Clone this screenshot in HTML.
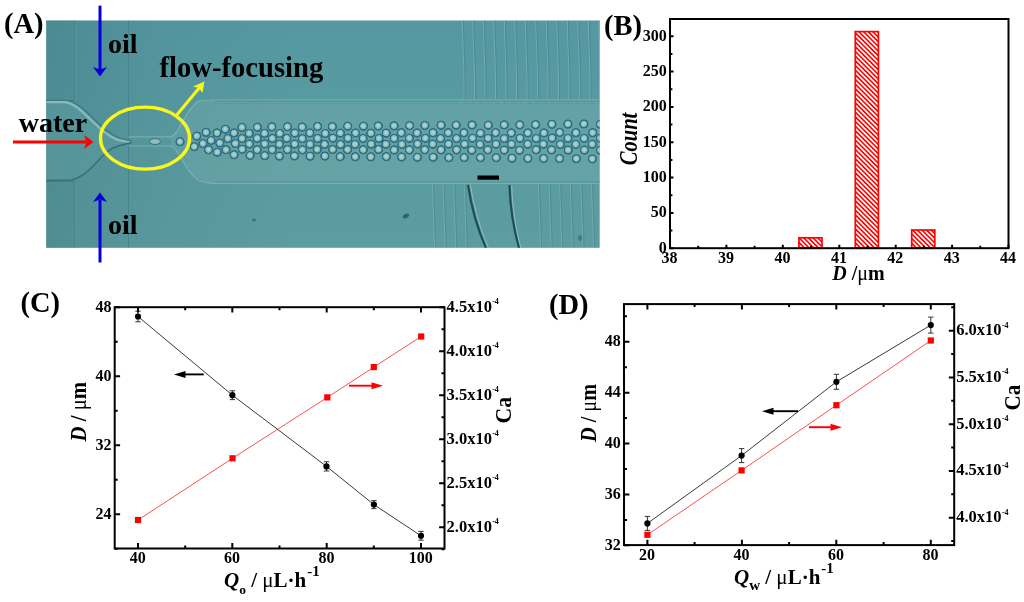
<!DOCTYPE html>
<html><head><meta charset="utf-8"><title>Figure</title>
<style>
html,body{margin:0;padding:0;background:#fff;}
body{width:1024px;height:602px;overflow:hidden;}
svg{display:block;}
text{font-family:"Liberation Serif","DejaVu Serif",serif;font-weight:bold;fill:#000;}
.tk{font-size:16px;}
.tr{font-size:16.5px;}
.lb{font-size:21px;}
.pl{font-size:28.5px;}
.an{font-size:28px;}
.ax{stroke:#000;stroke-width:2;fill:none;}
</style></head><body>
<svg width="1024" height="602" viewBox="0 0 1024 602">
<defs>
<linearGradient id="bg" x1="0" x2="0" y1="0" y2="1">
<stop offset="0" stop-color="#5598a2"/><stop offset="0.5" stop-color="#599ba1"/><stop offset="1" stop-color="#5c9da0"/>
</linearGradient>
<linearGradient id="lf" x1="0" x2="1" y1="0" y2="0">
<stop offset="0" stop-color="#103038" stop-opacity=".13"/><stop offset="0.22" stop-color="#103038" stop-opacity=".04"/><stop offset="0.45" stop-color="#103038" stop-opacity="0"/>
</linearGradient>
<radialGradient id="dr" cx="0.5" cy="0.5" r="0.5" fx="0.47" fy="0.46">
<stop offset="0" stop-color="#b4d5cf"/><stop offset="0.32" stop-color="#a3cac5"/><stop offset="0.58" stop-color="#7fb3b4"/><stop offset="0.7" stop-color="#2b6d82"/><stop offset="0.88" stop-color="#2f7386"/><stop offset="0.97" stop-color="#4f8f9a" stop-opacity=".6"/><stop offset="1" stop-color="#5a9aa1" stop-opacity="0"/>
</radialGradient>
<pattern id="hat" width="3.3" height="3.3" patternUnits="userSpaceOnUse" patternTransform="rotate(-45)">
<rect width="3.3" height="3.3" fill="#fff"/><rect width="1.6" height="3.3" fill="#ff0000"/>
</pattern>
<clipPath id="ca"><rect x="46.2" y="20.5" width="553.5" height="227.3"/></clipPath>
</defs>
<rect width="1024" height="602" fill="#fff"/>

<g id="panelA">
<rect x="46.2" y="20.5" width="553.5" height="227.3" fill="url(#bg)"/>
<rect x="46.2" y="20.5" width="553.5" height="227.3" fill="url(#lf)"/>
<g clip-path="url(#ca)">
<rect x="46" y="20" width="29" height="80.5" fill="#4a8a91" opacity=".3"/>
<rect x="46" y="181.5" width="29" height="67" fill="#4a8a91" opacity=".3"/>
<path d="M75 20V100.5M75 181.5V247.5M128.5 20V247.5" stroke="#44808a" stroke-width="1" fill="none" opacity=".8"/>
<path d="M76 20V100.5M76 181.5V247.5" stroke="#6aa6aa" stroke-width="1" fill="none" opacity=".5"/>
<path d="M46 100.5H75M46 181.5H75" stroke="#3f7c86" stroke-width="1.2" fill="none" opacity=".9"/>
<path d="M46 101 H64 C82 102 96 131 118 139 L131.5 141.8 L118 145.5 C100 150 92 176 71 179.8 L46 180 Z" fill="#5b9a9c" fill-opacity=".55" stroke="none"/>
<path d="M46 102 H64 C82 103 96 132 118 140 L130 142" stroke="#86b9ba" stroke-width="2.4" fill="none"/>
<path d="M46 100.3 H65 C84 101 98 130 120 138.2 L131.5 141" stroke="#3a7782" stroke-width="1.1" fill="none"/>
<path d="M131.5 142.5 L118 146 C100 151 92 176 71 180 L46 180.4" stroke="#356f7b" stroke-width="1.4" fill="none"/>
<path d="M171 136.8 C180 134 183 112 198 101.5 C203 100 208 100 215 100 H599.5 V183.3 H215 C208 183.3 203 182.5 198 180 C183 170 180 149 171 146 Z" fill="#ffffff" fill-opacity=".07"/>
<path d="M128.5 136.8 H171 C180 134 183 112 198 101.5 C203 100 208 100 215 100 H599.5" stroke="#7fb3b6" stroke-width="1.2" fill="none" opacity=".85"/>
<path d="M128.5 146 H171 C180 149 183 170 198 180 C203 182.5 208 183.3 215 183.3 H599.5" stroke="#7fb3b6" stroke-width="1.2" fill="none" opacity=".85"/>
<path d="M215 101.2 H599.5 M215 182.1 H599.5" stroke="#4a868f" stroke-width="1" fill="none" opacity=".6"/>
<path d="M215 103.5 H599.5" stroke="#4f8c94" stroke-width="1" stroke-dasharray="3 2 1 2 5 3" fill="none" opacity=".5"/>
<ellipse cx="155" cy="141.5" rx="5.5" ry="3" fill="#8fbcbd" stroke="#356f7b" stroke-width="1"/>
<path d="M462.4 20 C462.4 45 464.4 60 464.0 99" stroke="#8bbcbd" stroke-width="1" fill="none" opacity=".55"/>
<path d="M463.5 20 C463.5 45 465.5 60 465.1 99" stroke="#3f7f92" stroke-width="1" fill="none" opacity=".55"/>
<path d="M472.9 20 C472.9 45 474.9 60 474.5 99" stroke="#8bbcbd" stroke-width="1" fill="none" opacity=".55"/>
<path d="M474.0 20 C474.0 45 476.0 60 475.6 99" stroke="#3f7f92" stroke-width="1" fill="none" opacity=".55"/>
<path d="M483.4 20 C483.4 45 485.4 60 485.0 99" stroke="#8bbcbd" stroke-width="1" fill="none" opacity=".55"/>
<path d="M484.5 20 C484.5 45 486.5 60 486.1 99" stroke="#3f7f92" stroke-width="1" fill="none" opacity=".55"/>
<path d="M493.9 20 C493.9 45 495.9 60 495.5 99" stroke="#8bbcbd" stroke-width="1" fill="none" opacity=".55"/>
<path d="M495.0 20 C495.0 45 497.0 60 496.6 99" stroke="#3f7f92" stroke-width="1" fill="none" opacity=".55"/>
<path d="M504.4 20 C504.4 45 506.4 60 506.0 99" stroke="#8bbcbd" stroke-width="1" fill="none" opacity=".55"/>
<path d="M505.5 20 C505.5 45 507.5 60 507.1 99" stroke="#3f7f92" stroke-width="1" fill="none" opacity=".55"/>
<path d="M514.9 20 C514.9 45 516.9 60 516.5 99" stroke="#8bbcbd" stroke-width="1" fill="none" opacity=".55"/>
<path d="M516.0 20 C516.0 45 518.0 60 517.6 99" stroke="#3f7f92" stroke-width="1" fill="none" opacity=".55"/>
<path d="M525.4 20 C525.4 45 527.4 60 527.0 99" stroke="#8bbcbd" stroke-width="1" fill="none" opacity=".55"/>
<path d="M526.5 20 C526.5 45 528.5 60 528.1 99" stroke="#3f7f92" stroke-width="1" fill="none" opacity=".55"/>
<path d="M535.9 20 C535.9 45 537.9 60 537.5 99" stroke="#8bbcbd" stroke-width="1" fill="none" opacity=".55"/>
<path d="M537.0 20 C537.0 45 539.0 60 538.6 99" stroke="#3f7f92" stroke-width="1" fill="none" opacity=".55"/>
<path d="M546.4 20 C546.4 45 548.4 60 548.0 99" stroke="#8bbcbd" stroke-width="1" fill="none" opacity=".55"/>
<path d="M547.5 20 C547.5 45 549.5 60 549.1 99" stroke="#3f7f92" stroke-width="1" fill="none" opacity=".55"/>
<path d="M556.9 20 C556.9 45 558.9 60 558.5 99" stroke="#8bbcbd" stroke-width="1" fill="none" opacity=".55"/>
<path d="M558.0 20 C558.0 45 560.0 60 559.6 99" stroke="#3f7f92" stroke-width="1" fill="none" opacity=".55"/>
<path d="M567.4 20 C567.4 45 569.4 60 569.0 99" stroke="#8bbcbd" stroke-width="1" fill="none" opacity=".55"/>
<path d="M568.5 20 C568.5 45 570.5 60 570.1 99" stroke="#3f7f92" stroke-width="1" fill="none" opacity=".55"/>
<path d="M577.9 20 C577.9 45 579.9 60 579.5 99" stroke="#8bbcbd" stroke-width="1" fill="none" opacity=".55"/>
<path d="M579.0 20 C579.0 45 581.0 60 580.6 99" stroke="#3f7f92" stroke-width="1" fill="none" opacity=".55"/>
<path d="M588.4 20 C588.4 45 590.4 60 590.0 99" stroke="#8bbcbd" stroke-width="1" fill="none" opacity=".55"/>
<path d="M589.5 20 C589.5 45 591.5 60 591.1 99" stroke="#3f7f92" stroke-width="1" fill="none" opacity=".55"/>
<path d="M598.9 20 C598.9 45 600.9 60 600.5 99" stroke="#8bbcbd" stroke-width="1" fill="none" opacity=".55"/>
<path d="M600.0 20 C600.0 45 602.0 60 601.6 99" stroke="#3f7f92" stroke-width="1" fill="none" opacity=".55"/>
<path d="M432.5 184 C433.0 205 434.0 225 434.5 247.5" stroke="#8bbcbd" stroke-width="1" fill="none" opacity=".5"/>
<path d="M433.6 184 C434.1 205 435.1 225 435.6 247.5" stroke="#3f7f92" stroke-width="1" fill="none" opacity=".5"/>
<path d="M443.1 184 C443.6 205 444.6 225 445.1 247.5" stroke="#8bbcbd" stroke-width="1" fill="none" opacity=".5"/>
<path d="M444.2 184 C444.7 205 445.7 225 446.2 247.5" stroke="#3f7f92" stroke-width="1" fill="none" opacity=".5"/>
<path d="M453.7 184 C454.2 205 455.2 225 455.7 247.5" stroke="#8bbcbd" stroke-width="1" fill="none" opacity=".5"/>
<path d="M454.8 184 C455.3 205 456.3 225 456.8 247.5" stroke="#3f7f92" stroke-width="1" fill="none" opacity=".5"/>
<path d="M464.3 184 C464.8 205 465.8 225 466.3 247.5" stroke="#8bbcbd" stroke-width="1" fill="none" opacity=".5"/>
<path d="M465.4 184 C465.9 205 466.9 225 467.4 247.5" stroke="#3f7f92" stroke-width="1" fill="none" opacity=".5"/>
<path d="M538.5 184 C539.0 205 540.0 225 540.5 247.5" stroke="#8bbcbd" stroke-width="1" fill="none" opacity=".5"/>
<path d="M539.6 184 C540.1 205 541.1 225 541.6 247.5" stroke="#3f7f92" stroke-width="1" fill="none" opacity=".5"/>
<path d="M549.1 184 C549.6 205 550.6 225 551.1 247.5" stroke="#8bbcbd" stroke-width="1" fill="none" opacity=".5"/>
<path d="M550.2 184 C550.7 205 551.7 225 552.2 247.5" stroke="#3f7f92" stroke-width="1" fill="none" opacity=".5"/>
<path d="M559.7 184 C560.2 205 561.2 225 561.7 247.5" stroke="#8bbcbd" stroke-width="1" fill="none" opacity=".5"/>
<path d="M560.8 184 C561.3 205 562.3 225 562.8 247.5" stroke="#3f7f92" stroke-width="1" fill="none" opacity=".5"/>
<path d="M570.3 184 C570.8 205 571.8 225 572.3 247.5" stroke="#8bbcbd" stroke-width="1" fill="none" opacity=".5"/>
<path d="M571.4 184 C571.9 205 572.9 225 573.4 247.5" stroke="#3f7f92" stroke-width="1" fill="none" opacity=".5"/>
<path d="M580.9 184 C581.4 205 582.4 225 582.9 247.5" stroke="#8bbcbd" stroke-width="1" fill="none" opacity=".5"/>
<path d="M582.0 184 C582.5 205 583.5 225 584.0 247.5" stroke="#3f7f92" stroke-width="1" fill="none" opacity=".5"/>
<path d="M591.5 184 C592.0 205 593.0 225 593.5 247.5" stroke="#8bbcbd" stroke-width="1" fill="none" opacity=".5"/>
<path d="M592.6 184 C593.1 205 594.1 225 594.6 247.5" stroke="#3f7f92" stroke-width="1" fill="none" opacity=".5"/>
<path d="M468 185 C471 205 478 230 486 248" stroke="#1f4e5a" stroke-width="2.2" fill="none"/>
<path d="M470.5 185 C473.5 205 480.5 230 488.5 248" stroke="#a9c9c8" stroke-width="1" fill="none" opacity=".7"/>
<path d="M509.5 185 C510 205 514 230 519 248" stroke="#1f4e5a" stroke-width="2.2" fill="none"/>
<path d="M511.8 185 C512 205 516 230 521 248" stroke="#a9c9c8" stroke-width="1" fill="none" opacity=".7"/>
<ellipse cx="406" cy="216" rx="3.5" ry="2" fill="#2f636c" transform="rotate(-30 406 216)"/>
<ellipse cx="254" cy="220" rx="2" ry="1.5" fill="#3b737b"/>
<ellipse cx="580" cy="238" rx="2" ry="3" fill="#3b737b" opacity=".8"/>
<circle cx="180.0" cy="141.7" r="5.0" fill="url(#dr)"/>
<circle cx="196.8" cy="136.1" r="5.0" fill="url(#dr)"/>
<circle cx="194.3" cy="146.7" r="5.0" fill="url(#dr)"/>
<circle cx="206.1" cy="132.4" r="5.0" fill="url(#dr)"/>
<circle cx="203.0" cy="143.6" r="5.0" fill="url(#dr)"/>
<circle cx="211.1" cy="140.5" r="5.0" fill="url(#dr)"/>
<circle cx="208.6" cy="149.8" r="5.0" fill="url(#dr)"/>
<circle cx="217.1" cy="133.0" r="5.0" fill="url(#dr)"/>
<circle cx="219.8" cy="143.0" r="5.0" fill="url(#dr)"/>
<circle cx="217.3" cy="152.3" r="5.0" fill="url(#dr)"/>
<circle cx="225.4" cy="129.3" r="5.0" fill="url(#dr)"/>
<circle cx="227.9" cy="138.6" r="5.0" fill="url(#dr)"/>
<circle cx="226.0" cy="149.8" r="5.0" fill="url(#dr)"/>
<circle cx="234.1" cy="133.0" r="5.0" fill="url(#dr)"/>
<circle cx="235.4" cy="143.6" r="5.0" fill="url(#dr)"/>
<circle cx="234.1" cy="154.8" r="5.0" fill="url(#dr)"/>
<circle cx="242.0" cy="127.5" r="5.0" fill="url(#dr)"/>
<circle cx="242.1" cy="138.6" r="5.0" fill="url(#dr)"/>
<circle cx="242.3" cy="149.3" r="5.0" fill="url(#dr)"/>
<circle cx="249.2" cy="133.5" r="5.0" fill="url(#dr)"/>
<circle cx="249.4" cy="144.0" r="5.0" fill="url(#dr)"/>
<circle cx="250.1" cy="155.5" r="5.0" fill="url(#dr)"/>
<circle cx="257.4" cy="127.3" r="5.0" fill="url(#dr)"/>
<circle cx="257.2" cy="138.4" r="5.0" fill="url(#dr)"/>
<circle cx="257.2" cy="149.8" r="5.0" fill="url(#dr)"/>
<circle cx="264.6" cy="133.4" r="5.0" fill="url(#dr)"/>
<circle cx="264.7" cy="143.9" r="5.0" fill="url(#dr)"/>
<circle cx="264.8" cy="155.7" r="5.0" fill="url(#dr)"/>
<circle cx="271.9" cy="126.9" r="5.0" fill="url(#dr)"/>
<circle cx="272.4" cy="138.5" r="5.0" fill="url(#dr)"/>
<circle cx="272.3" cy="149.8" r="5.0" fill="url(#dr)"/>
<circle cx="279.8" cy="133.5" r="5.0" fill="url(#dr)"/>
<circle cx="279.5" cy="144.3" r="5.0" fill="url(#dr)"/>
<circle cx="279.5" cy="156.1" r="5.0" fill="url(#dr)"/>
<circle cx="287.5" cy="126.8" r="5.0" fill="url(#dr)"/>
<circle cx="286.8" cy="138.4" r="5.0" fill="url(#dr)"/>
<circle cx="287.5" cy="149.6" r="5.0" fill="url(#dr)"/>
<circle cx="294.8" cy="133.1" r="5.0" fill="url(#dr)"/>
<circle cx="294.7" cy="144.1" r="5.0" fill="url(#dr)"/>
<circle cx="294.5" cy="156.0" r="5.0" fill="url(#dr)"/>
<circle cx="302.3" cy="127.1" r="5.0" fill="url(#dr)"/>
<circle cx="302.4" cy="138.7" r="5.0" fill="url(#dr)"/>
<circle cx="302.5" cy="149.9" r="5.0" fill="url(#dr)"/>
<circle cx="309.9" cy="133.0" r="5.0" fill="url(#dr)"/>
<circle cx="310.1" cy="144.4" r="5.0" fill="url(#dr)"/>
<circle cx="310.1" cy="156.2" r="5.0" fill="url(#dr)"/>
<circle cx="317.6" cy="126.5" r="5.0" fill="url(#dr)"/>
<circle cx="317.7" cy="138.5" r="5.0" fill="url(#dr)"/>
<circle cx="317.2" cy="149.5" r="5.0" fill="url(#dr)"/>
<circle cx="325.3" cy="133.5" r="5.0" fill="url(#dr)"/>
<circle cx="324.6" cy="144.4" r="5.0" fill="url(#dr)"/>
<circle cx="324.9" cy="156.1" r="5.0" fill="url(#dr)"/>
<circle cx="332.4" cy="126.7" r="5.0" fill="url(#dr)"/>
<circle cx="332.9" cy="138.2" r="5.0" fill="url(#dr)"/>
<circle cx="332.7" cy="149.5" r="5.0" fill="url(#dr)"/>
<circle cx="340.4" cy="133.1" r="5.0" fill="url(#dr)"/>
<circle cx="340.6" cy="144.5" r="5.0" fill="url(#dr)"/>
<circle cx="340.2" cy="156.7" r="5.0" fill="url(#dr)"/>
<circle cx="347.7" cy="126.2" r="5.0" fill="url(#dr)"/>
<circle cx="347.9" cy="138.2" r="5.0" fill="url(#dr)"/>
<circle cx="347.6" cy="149.7" r="5.0" fill="url(#dr)"/>
<circle cx="355.6" cy="133.0" r="5.0" fill="url(#dr)"/>
<circle cx="355.1" cy="144.4" r="5.0" fill="url(#dr)"/>
<circle cx="355.3" cy="156.8" r="5.0" fill="url(#dr)"/>
<circle cx="363.5" cy="126.2" r="5.0" fill="url(#dr)"/>
<circle cx="363.1" cy="138.5" r="5.0" fill="url(#dr)"/>
<circle cx="363.3" cy="149.8" r="5.0" fill="url(#dr)"/>
<circle cx="370.9" cy="133.2" r="5.0" fill="url(#dr)"/>
<circle cx="371.3" cy="144.2" r="5.0" fill="url(#dr)"/>
<circle cx="370.8" cy="156.9" r="5.0" fill="url(#dr)"/>
<circle cx="378.3" cy="126.0" r="5.0" fill="url(#dr)"/>
<circle cx="379.0" cy="138.5" r="5.0" fill="url(#dr)"/>
<circle cx="378.6" cy="149.5" r="5.0" fill="url(#dr)"/>
<circle cx="386.2" cy="133.1" r="5.0" fill="url(#dr)"/>
<circle cx="385.9" cy="144.3" r="5.0" fill="url(#dr)"/>
<circle cx="386.4" cy="156.7" r="5.0" fill="url(#dr)"/>
<circle cx="394.1" cy="125.9" r="5.0" fill="url(#dr)"/>
<circle cx="394.2" cy="138.4" r="5.0" fill="url(#dr)"/>
<circle cx="394.2" cy="150.0" r="5.0" fill="url(#dr)"/>
<circle cx="401.3" cy="132.8" r="5.0" fill="url(#dr)"/>
<circle cx="401.9" cy="144.5" r="5.0" fill="url(#dr)"/>
<circle cx="401.6" cy="157.0" r="5.0" fill="url(#dr)"/>
<circle cx="409.6" cy="125.7" r="5.0" fill="url(#dr)"/>
<circle cx="409.4" cy="138.3" r="5.0" fill="url(#dr)"/>
<circle cx="409.4" cy="149.9" r="5.0" fill="url(#dr)"/>
<circle cx="417.1" cy="133.0" r="5.0" fill="url(#dr)"/>
<circle cx="417.6" cy="144.0" r="5.0" fill="url(#dr)"/>
<circle cx="417.4" cy="157.3" r="5.0" fill="url(#dr)"/>
<circle cx="424.9" cy="125.5" r="5.0" fill="url(#dr)"/>
<circle cx="425.4" cy="138.3" r="5.0" fill="url(#dr)"/>
<circle cx="424.8" cy="149.8" r="5.0" fill="url(#dr)"/>
<circle cx="433.1" cy="132.8" r="5.0" fill="url(#dr)"/>
<circle cx="432.8" cy="144.2" r="5.0" fill="url(#dr)"/>
<circle cx="433.2" cy="157.3" r="5.0" fill="url(#dr)"/>
<circle cx="441.1" cy="125.3" r="5.0" fill="url(#dr)"/>
<circle cx="440.6" cy="138.5" r="5.0" fill="url(#dr)"/>
<circle cx="441.1" cy="149.9" r="5.0" fill="url(#dr)"/>
<circle cx="448.3" cy="132.8" r="5.0" fill="url(#dr)"/>
<circle cx="448.6" cy="144.1" r="5.0" fill="url(#dr)"/>
<circle cx="448.9" cy="157.7" r="5.0" fill="url(#dr)"/>
<circle cx="456.2" cy="125.2" r="5.0" fill="url(#dr)"/>
<circle cx="456.7" cy="138.5" r="5.0" fill="url(#dr)"/>
<circle cx="456.7" cy="149.9" r="5.0" fill="url(#dr)"/>
<circle cx="464.0" cy="132.8" r="5.0" fill="url(#dr)"/>
<circle cx="464.6" cy="144.2" r="5.0" fill="url(#dr)"/>
<circle cx="464.2" cy="157.6" r="5.0" fill="url(#dr)"/>
<circle cx="472.1" cy="125.1" r="5.0" fill="url(#dr)"/>
<circle cx="472.6" cy="138.2" r="5.0" fill="url(#dr)"/>
<circle cx="471.8" cy="150.2" r="5.0" fill="url(#dr)"/>
<circle cx="480.5" cy="133.2" r="5.0" fill="url(#dr)"/>
<circle cx="480.1" cy="144.5" r="5.0" fill="url(#dr)"/>
<circle cx="480.5" cy="157.7" r="5.0" fill="url(#dr)"/>
<circle cx="488.3" cy="125.2" r="5.0" fill="url(#dr)"/>
<circle cx="488.2" cy="138.4" r="5.0" fill="url(#dr)"/>
<circle cx="487.8" cy="149.9" r="5.0" fill="url(#dr)"/>
<circle cx="495.7" cy="132.7" r="5.0" fill="url(#dr)"/>
<circle cx="496.1" cy="144.2" r="5.0" fill="url(#dr)"/>
<circle cx="496.3" cy="157.7" r="5.0" fill="url(#dr)"/>
<circle cx="504.3" cy="124.9" r="5.0" fill="url(#dr)"/>
<circle cx="504.3" cy="138.6" r="5.0" fill="url(#dr)"/>
<circle cx="504.3" cy="150.1" r="5.0" fill="url(#dr)"/>
<circle cx="511.4" cy="133.0" r="5.0" fill="url(#dr)"/>
<circle cx="511.6" cy="144.2" r="5.0" fill="url(#dr)"/>
<circle cx="512.0" cy="158.2" r="5.0" fill="url(#dr)"/>
<circle cx="519.8" cy="124.9" r="5.0" fill="url(#dr)"/>
<circle cx="520.0" cy="138.3" r="5.0" fill="url(#dr)"/>
<circle cx="519.6" cy="150.3" r="5.0" fill="url(#dr)"/>
<circle cx="527.8" cy="133.0" r="5.0" fill="url(#dr)"/>
<circle cx="527.7" cy="144.2" r="5.0" fill="url(#dr)"/>
<circle cx="527.9" cy="158.5" r="5.0" fill="url(#dr)"/>
<circle cx="535.6" cy="124.7" r="5.0" fill="url(#dr)"/>
<circle cx="536.3" cy="138.5" r="5.0" fill="url(#dr)"/>
<circle cx="536.2" cy="149.8" r="5.0" fill="url(#dr)"/>
<circle cx="544.0" cy="133.0" r="5.0" fill="url(#dr)"/>
<circle cx="543.5" cy="144.2" r="5.0" fill="url(#dr)"/>
<circle cx="543.7" cy="158.5" r="5.0" fill="url(#dr)"/>
<circle cx="551.9" cy="124.3" r="5.0" fill="url(#dr)"/>
<circle cx="552.2" cy="138.1" r="5.0" fill="url(#dr)"/>
<circle cx="551.6" cy="149.9" r="5.0" fill="url(#dr)"/>
<circle cx="559.7" cy="132.5" r="5.0" fill="url(#dr)"/>
<circle cx="560.4" cy="144.5" r="5.0" fill="url(#dr)"/>
<circle cx="559.6" cy="158.6" r="5.0" fill="url(#dr)"/>
<circle cx="567.9" cy="124.1" r="5.0" fill="url(#dr)"/>
<circle cx="568.0" cy="138.4" r="5.0" fill="url(#dr)"/>
<circle cx="568.2" cy="150.1" r="5.0" fill="url(#dr)"/>
<circle cx="575.9" cy="132.7" r="5.0" fill="url(#dr)"/>
<circle cx="575.8" cy="144.4" r="5.0" fill="url(#dr)"/>
<circle cx="576.4" cy="158.7" r="5.0" fill="url(#dr)"/>
<circle cx="583.9" cy="124.0" r="5.0" fill="url(#dr)"/>
<circle cx="584.2" cy="138.4" r="5.0" fill="url(#dr)"/>
<circle cx="584.5" cy="150.1" r="5.0" fill="url(#dr)"/>
<circle cx="592.7" cy="132.8" r="5.0" fill="url(#dr)"/>
<circle cx="592.3" cy="144.3" r="5.0" fill="url(#dr)"/>
<circle cx="592.4" cy="158.9" r="5.0" fill="url(#dr)"/>
<circle cx="600.4" cy="124.3" r="5.0" fill="url(#dr)"/>
<circle cx="600.4" cy="138.2" r="5.0" fill="url(#dr)"/>
<circle cx="600.5" cy="150.3" r="5.0" fill="url(#dr)"/>
</g>
<rect x="477.5" y="175.5" width="21.5" height="4.2" fill="#000"/>
<path d="M100 5.6V70" stroke="#0800dc" stroke-width="3" fill="none"/><path d="M93 67 L100 76.5 L107 67 L100 69.5Z" fill="#0800dc"/>
<path d="M100 262.5V200" stroke="#0800dc" stroke-width="3" fill="none"/><path d="M93 202 L100 192.5 L107 202 L100 199.5Z" fill="#0800dc"/>
<path d="M13 142H86" stroke="#ff0000" stroke-width="3" fill="none"/><path d="M84 135 L93.5 142 L84 149 L86.5 142Z" fill="#ff0000"/>
<ellipse cx="145" cy="138.2" rx="44.5" ry="31" fill="none" stroke="#faf71c" stroke-width="3.3"/>
<path d="M175.5 116.5 L200 87" stroke="#faf71c" stroke-width="3" fill="none"/><path d="M204.5 81.5 L202.5 93 L199 88 L193 86.5Z" fill="#faf71c"/>
<text class="pl" x="4" y="32.8">(A)</text>
<text class="an" x="108" y="52.6">oil</text>
<text class="an" x="108" y="233.5">oil</text>
<text class="an" style="font-size:28.6px" x="159.6" y="76.5">flow-focusing</text>
<text class="an" x="18.8" y="132.1">water</text>
</g>
<g id="panelB">
<rect x="798.9" y="237.8" width="23.1" height="10.4" fill="url(#hat)" stroke="#ff0000" stroke-width="1.7"/>
<rect x="855.3" y="31.6" width="23.1" height="216.6" fill="url(#hat)" stroke="#ff0000" stroke-width="1.7"/>
<rect x="911.7" y="230.0" width="23.1" height="18.2" fill="url(#hat)" stroke="#ff0000" stroke-width="1.7"/>
<rect class="ax" x="670" y="19.0" width="338.5" height="229.2"/>
<path class="ax" d="M670 248.2h3.5M670 212.9h3.5M670 177.6h3.5M670 142.3h3.5M670 106.9h3.5M670 71.6h3.5M670 36.3h3.5M670 230.5h2.4M670 195.2h2.4M670 159.9h2.4M670 124.6h2.4M670 89.3h2.4M670 54.0h2.4M670.0 248.2v-3.5M726.4 248.2v-3.5M782.8 248.2v-3.5M839.3 248.2v-3.5M895.7 248.2v-3.5M952.1 248.2v-3.5M1008.5 248.2v-3.5M698.2 248.2v-2.4M754.6 248.2v-2.4M811.0 248.2v-2.4M867.5 248.2v-2.4M923.9 248.2v-2.4M980.3 248.2v-2.4"/>
<text class="tk" x="666.7" y="252.6" text-anchor="end">0</text>
<text class="tk" x="666.7" y="217.3" text-anchor="end">50</text>
<text class="tk" x="666.7" y="182.0" text-anchor="end">100</text>
<text class="tk" x="666.7" y="146.7" text-anchor="end">150</text>
<text class="tk" x="666.7" y="111.3" text-anchor="end">200</text>
<text class="tk" x="666.7" y="76.0" text-anchor="end">250</text>
<text class="tk" x="666.7" y="40.7" text-anchor="end">300</text>
<text class="tk" x="669.6" y="262.6" text-anchor="middle">38</text>
<text class="tk" x="726.0" y="262.6" text-anchor="middle">39</text>
<text class="tk" x="782.4" y="262.6" text-anchor="middle">40</text>
<text class="tk" x="838.9" y="262.6" text-anchor="middle">41</text>
<text class="tk" x="895.3" y="262.6" text-anchor="middle">42</text>
<text class="tk" x="951.7" y="262.6" text-anchor="middle">43</text>
<text class="tk" x="1008.1" y="262.6" text-anchor="middle">44</text>
<text class="pl" x="604" y="35.2">(B)</text>
<text style="font-size:24.5px" transform="translate(636.6,139) rotate(-90) scale(0.84,1)" text-anchor="middle" font-style="italic">Count</text>
<text style="font-size:20px" x="858.4" y="279.8" text-anchor="middle"><tspan font-style="italic">D</tspan> /<tspan font-weight="normal">μ</tspan>m</text>
</g>
<g id="panelC">
<polyline fill="none" stroke="#ff5050" stroke-width="1" points="138,520 232.5,458.3 327.3,397.4 373.8,367.1 421.2,336.5"/>
<polyline fill="none" stroke="#3a3a3a" stroke-width="1" points="138,316.5 232.4,395.2 326.5,466.4 373.9,504.6 421,535.8"/>
<path d="M138 311.2V321.8M135.3 311.2h5.4M135.3 321.8h5.4" stroke="#333" stroke-width="1" fill="none"/>
<circle cx="138" cy="316.5" r="3.1" fill="#000"/>
<path d="M232.4 390.8V399.59999999999997M229.70000000000002 390.8h5.4M229.70000000000002 399.59999999999997h5.4" stroke="#333" stroke-width="1" fill="none"/>
<circle cx="232.4" cy="395.2" r="3.1" fill="#000"/>
<path d="M326.5 461.79999999999995V471.0M323.8 461.79999999999995h5.4M323.8 471.0h5.4" stroke="#333" stroke-width="1" fill="none"/>
<circle cx="326.5" cy="466.4" r="3.1" fill="#000"/>
<path d="M373.9 500.6V508.6M371.2 500.6h5.4M371.2 508.6h5.4" stroke="#333" stroke-width="1" fill="none"/>
<circle cx="373.9" cy="504.6" r="3.1" fill="#000"/>
<path d="M421 531.4V540.1999999999999M418.3 531.4h5.4M418.3 540.1999999999999h5.4" stroke="#333" stroke-width="1" fill="none"/>
<circle cx="421" cy="535.8" r="3.1" fill="#000"/>
<rect x="134.9" y="516.9" width="6.2" height="6.2" fill="#ff0000"/>
<rect x="229.4" y="455.2" width="6.2" height="6.2" fill="#ff0000"/>
<rect x="324.2" y="394.29999999999995" width="6.2" height="6.2" fill="#ff0000"/>
<rect x="370.7" y="364.0" width="6.2" height="6.2" fill="#ff0000"/>
<rect x="418.09999999999997" y="333.4" width="6.2" height="6.2" fill="#ff0000"/>
<rect class="ax" x="114.7" y="307.2" width="329.8" height="241.3"/>
<path class="ax" d="M114.7 514.2h5.4M114.7 445.2h5.4M114.7 376.2h5.4M114.7 307.2h5.4M114.7 548.7h3.0M114.7 479.7h3.0M114.7 410.7h3.0M114.7 341.7h3.0M138.0 548.5v-5.4M138.0 307.2v5.4M232.3 548.5v-5.4M232.3 307.2v5.4M326.7 548.5v-5.4M326.7 307.2v5.4M421.0 548.5v-5.4M421.0 307.2v5.4M185.2 548.5v-3.0M185.2 307.2v3.0M279.5 548.5v-3.0M279.5 307.2v3.0M373.8 548.5v-3.0M373.8 307.2v3.0M444.5 527.2h-5.4M444.5 483.2h-5.4M444.5 439.2h-5.4M444.5 395.2h-5.4M444.5 351.2h-5.4M444.5 307.2h-5.4M444.5 549.2h-3.0M444.5 505.2h-3.0M444.5 461.2h-3.0M444.5 417.2h-3.0M444.5 373.2h-3.0M444.5 329.2h-3.0"/>
<text class="tk" x="111.4" y="518.8" text-anchor="end">24</text>
<text class="tk" x="111.4" y="449.8" text-anchor="end">32</text>
<text class="tk" x="111.4" y="380.8" text-anchor="end">40</text>
<text class="tk" x="111.4" y="311.8" text-anchor="end">48</text>
<text class="tk" x="137.7" y="563.4" text-anchor="middle">40</text>
<text class="tk" x="232.0" y="563.4" text-anchor="middle">60</text>
<text class="tk" x="326.4" y="563.4" text-anchor="middle">80</text>
<text class="tk" x="420.7" y="563.4" text-anchor="middle">100</text>
<text class="tr" x="446.5" y="531.6">2.0x10<tspan dy="-7.4" dx="0.3" font-size="8">-4</tspan></text>
<text class="tr" x="446.5" y="487.6">2.5x10<tspan dy="-7.4" dx="0.3" font-size="8">-4</tspan></text>
<text class="tr" x="446.5" y="443.6">3.0x10<tspan dy="-7.4" dx="0.3" font-size="8">-4</tspan></text>
<text class="tr" x="446.5" y="399.6">3.5x10<tspan dy="-7.4" dx="0.3" font-size="8">-4</tspan></text>
<text class="tr" x="446.5" y="355.6">4.0x10<tspan dy="-7.4" dx="0.3" font-size="8">-4</tspan></text>
<text class="tr" x="446.5" y="311.6">4.5x10<tspan dy="-7.4" dx="0.3" font-size="8">-4</tspan></text>
<path d="M203.7 374.4H183" stroke="#000" stroke-width="1.9" fill="none"/><path d="M174 374.4 L185.5 370.9 L185.5 377.9Z" fill="#000"/>
<path d="M349 385.7H374" stroke="#ff0000" stroke-width="1.9" fill="none"/><path d="M383 385.7 L371.5 382.2 L371.5 389.2Z" fill="#ff0000"/>
<text class="pl" x="20.5" y="311.5">(C)</text>
<text style="font-size:22.5px" transform="translate(86,411.7) rotate(-90) scale(0.92,1)" text-anchor="middle"><tspan font-style="italic">D</tspan> / <tspan font-weight="normal">μ</tspan>m</text>
<text style="font-size:24px" transform="translate(511,410.2) rotate(-90) scale(0.9,1)" text-anchor="middle">Ca</text>
<text class="lb" x="224" y="586.5"><tspan font-style="italic">Q</tspan><tspan font-size="13.5" dy="7.5">o</tspan><tspan dy="-7.5"> / </tspan><tspan font-weight="normal">μ</tspan>L·h<tspan font-size="15" dy="-10.2" dx="1">-1</tspan></text>
</g>
<g id="panelD">
<polyline fill="none" stroke="#ff5050" stroke-width="1" points="647.4,534.8 741.6,470.4 836.4,405.2 930.8,340.5"/>
<polyline fill="none" stroke="#3a3a3a" stroke-width="1" points="647.4,523.4 741.6,455.6 836.4,381.8 930.8,325.1"/>
<path d="M647.4 516.4V530.4M644.6999999999999 516.4h5.4M644.6999999999999 530.4h5.4" stroke="#333" stroke-width="1" fill="none"/>
<circle cx="647.4" cy="523.4" r="3.1" fill="#000"/>
<path d="M741.6 448.6V462.6M738.9 448.6h5.4M738.9 462.6h5.4" stroke="#333" stroke-width="1" fill="none"/>
<circle cx="741.6" cy="455.6" r="3.1" fill="#000"/>
<path d="M836.4 374.3V389.3M833.6999999999999 374.3h5.4M833.6999999999999 389.3h5.4" stroke="#333" stroke-width="1" fill="none"/>
<circle cx="836.4" cy="381.8" r="3.1" fill="#000"/>
<path d="M930.8 317.1V333.1M928.0999999999999 317.1h5.4M928.0999999999999 333.1h5.4" stroke="#333" stroke-width="1" fill="none"/>
<circle cx="930.8" cy="325.1" r="3.1" fill="#000"/>
<rect x="644.3" y="531.6999999999999" width="6.2" height="6.2" fill="#ff0000"/>
<rect x="738.5" y="467.29999999999995" width="6.2" height="6.2" fill="#ff0000"/>
<rect x="833.3" y="402.09999999999997" width="6.2" height="6.2" fill="#ff0000"/>
<rect x="927.6999999999999" y="337.4" width="6.2" height="6.2" fill="#ff0000"/>
<rect class="ax" x="624.0" y="304.1" width="330.20000000000005" height="241.0"/>
<path class="ax" d="M624.0 545.3h5.4M624.0 494.4h5.4M624.0 443.5h5.4M624.0 392.7h5.4M624.0 341.8h5.4M624.0 519.9h3.0M624.0 469.0h3.0M624.0 418.1h3.0M624.0 367.2h3.0M624.0 316.3h3.0M647.4 545.1v-5.4M647.4 304.1v5.4M741.9 545.1v-5.4M741.9 304.1v5.4M836.3 545.1v-5.4M836.3 304.1v5.4M930.8 545.1v-5.4M930.8 304.1v5.4M694.6 545.1v-3.0M694.6 304.1v3.0M789.1 545.1v-3.0M789.1 304.1v3.0M883.6 545.1v-3.0M883.6 304.1v3.0M954.2 517.7h-5.4M954.2 470.9h-5.4M954.2 424.2h-5.4M954.2 377.4h-5.4M954.2 330.7h-5.4M954.2 541.1h-3.0M954.2 494.3h-3.0M954.2 447.6h-3.0M954.2 400.8h-3.0M954.2 354.1h-3.0M954.2 307.3h-3.0"/>
<text class="tk" x="620.7" y="549.9" text-anchor="end">32</text>
<text class="tk" x="620.7" y="499.0" text-anchor="end">36</text>
<text class="tk" x="620.7" y="448.1" text-anchor="end">40</text>
<text class="tk" x="620.7" y="397.3" text-anchor="end">44</text>
<text class="tk" x="620.7" y="346.4" text-anchor="end">48</text>
<text class="tk" x="647.1" y="560.3" text-anchor="middle">20</text>
<text class="tk" x="741.6" y="560.3" text-anchor="middle">40</text>
<text class="tk" x="836.0" y="560.3" text-anchor="middle">60</text>
<text class="tk" x="930.5" y="560.3" text-anchor="middle">80</text>
<text class="tr" x="956.2" y="522.1">4.0x10<tspan dy="-7.4" dx="0.3" font-size="8">-4</tspan></text>
<text class="tr" x="956.2" y="475.3">4.5x10<tspan dy="-7.4" dx="0.3" font-size="8">-4</tspan></text>
<text class="tr" x="956.2" y="428.6">5.0x10<tspan dy="-7.4" dx="0.3" font-size="8">-4</tspan></text>
<text class="tr" x="956.2" y="381.8">5.5x10<tspan dy="-7.4" dx="0.3" font-size="8">-4</tspan></text>
<text class="tr" x="956.2" y="335.1">6.0x10<tspan dy="-7.4" dx="0.3" font-size="8">-4</tspan></text>
<path d="M798 411.2H771" stroke="#000" stroke-width="1.9" fill="none"/><path d="M762 411.2 L773.5 407.7 L773.5 414.7Z" fill="#000"/>
<path d="M809 427.2H833" stroke="#ff0000" stroke-width="1.9" fill="none"/><path d="M842 427.2 L830.5 423.7 L830.5 430.7Z" fill="#ff0000"/>
<text class="pl" x="549" y="314">(D)</text>
<text style="font-size:22.5px" transform="translate(596,413) rotate(-90) scale(0.9,1)" text-anchor="middle"><tspan font-style="italic">D</tspan> / <tspan font-weight="normal">μ</tspan>m</text>
<text style="font-size:24px" transform="translate(1020.4,397.7) rotate(-90) scale(0.88,1)" text-anchor="middle">Ca</text>
<text class="lb" x="734" y="583.5"><tspan font-style="italic">Q</tspan><tspan font-size="15" dy="6.5">w</tspan><tspan dy="-6.5"> / </tspan><tspan font-weight="normal">μ</tspan>L·h<tspan font-size="15" dy="-10.5" dx="1">-1</tspan></text>
</g>
</svg></body></html>
